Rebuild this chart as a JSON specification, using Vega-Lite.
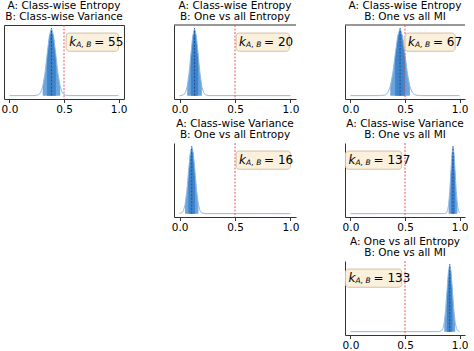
{
  "$schema": "https://vega.github.io/schema/vega-lite/v6.json",
  "padding": {"left": 0, "top": 0, "right": 0, "bottom": 0},
  "background": "white",
  "datasets": {
    "curves": [
      {"panel":"p1","x":0.0,"y":0,"band":0},{"panel":"p1","x":0.225,"y":0.0003,"band":0},{"panel":"p1","x":0.265,"y":0.011,"band":0},{"panel":"p1","x":0.285,"y":0.044,"band":0},{"panel":"p1","x":0.305,"y":0.135,"band":1},{"panel":"p1","x":0.325,"y":0.325,"band":1},{"panel":"p1","x":0.345,"y":0.607,"band":2},{"panel":"p1","x":0.365,"y":0.882,"band":2},{"panel":"p1","x":0.385,"y":1.0,"band":2},{"panel":"p1","x":0.405,"y":0.882,"band":2},{"panel":"p1","x":0.425,"y":0.607,"band":2},{"panel":"p1","x":0.445,"y":0.325,"band":1},{"panel":"p1","x":0.465,"y":0.135,"band":1},{"panel":"p1","x":0.485,"y":0.044,"band":0},{"panel":"p1","x":0.505,"y":0.011,"band":0},{"panel":"p1","x":0.545,"y":0.0003,"band":0},{"panel":"p1","x":1.0,"y":0,"band":0},
      {"panel":"p2","x":0.0,"y":0,"band":0},{"panel":"p2","x":0.003,"y":0.0003,"band":0},{"panel":"p2","x":0.036,"y":0.011,"band":0},{"panel":"p2","x":0.0525,"y":0.044,"band":0},{"panel":"p2","x":0.069,"y":0.135,"band":1},{"panel":"p2","x":0.0855,"y":0.325,"band":1},{"panel":"p2","x":0.102,"y":0.607,"band":2},{"panel":"p2","x":0.1185,"y":0.882,"band":2},{"panel":"p2","x":0.135,"y":1.0,"band":2},{"panel":"p2","x":0.1515,"y":0.882,"band":2},{"panel":"p2","x":0.168,"y":0.607,"band":2},{"panel":"p2","x":0.1845,"y":0.325,"band":1},{"panel":"p2","x":0.201,"y":0.135,"band":1},{"panel":"p2","x":0.2175,"y":0.044,"band":0},{"panel":"p2","x":0.234,"y":0.011,"band":0},{"panel":"p2","x":0.267,"y":0.0003,"band":0},{"panel":"p2","x":1.0,"y":0,"band":0},
      {"panel":"p3","x":0.0,"y":0,"band":0},{"panel":"p3","x":0.275,"y":0.0003,"band":0},{"panel":"p3","x":0.32,"y":0.011,"band":0},{"panel":"p3","x":0.3425,"y":0.044,"band":0},{"panel":"p3","x":0.365,"y":0.135,"band":1},{"panel":"p3","x":0.3875,"y":0.325,"band":1},{"panel":"p3","x":0.41,"y":0.607,"band":2},{"panel":"p3","x":0.4325,"y":0.882,"band":2},{"panel":"p3","x":0.455,"y":1.0,"band":2},{"panel":"p3","x":0.4775,"y":0.882,"band":2},{"panel":"p3","x":0.5,"y":0.607,"band":2},{"panel":"p3","x":0.5225,"y":0.325,"band":1},{"panel":"p3","x":0.545,"y":0.135,"band":1},{"panel":"p3","x":0.5675,"y":0.044,"band":0},{"panel":"p3","x":0.59,"y":0.011,"band":0},{"panel":"p3","x":0.635,"y":0.0003,"band":0},{"panel":"p3","x":1.0,"y":0,"band":0},
      {"panel":"p4","x":0.0,"y":0.0012,"band":0},{"panel":"p4","x":0.02,"y":0.011,"band":0},{"panel":"p4","x":0.035,"y":0.044,"band":0},{"panel":"p4","x":0.05,"y":0.135,"band":1},{"panel":"p4","x":0.065,"y":0.325,"band":1},{"panel":"p4","x":0.08,"y":0.607,"band":2},{"panel":"p4","x":0.095,"y":0.882,"band":2},{"panel":"p4","x":0.11,"y":1.0,"band":2},{"panel":"p4","x":0.125,"y":0.882,"band":2},{"panel":"p4","x":0.14,"y":0.607,"band":2},{"panel":"p4","x":0.155,"y":0.325,"band":1},{"panel":"p4","x":0.17,"y":0.135,"band":1},{"panel":"p4","x":0.185,"y":0.044,"band":0},{"panel":"p4","x":0.2,"y":0.011,"band":0},{"panel":"p4","x":0.23,"y":0.0003,"band":0},{"panel":"p4","x":1.0,"y":0,"band":0},
      {"panel":"p5","x":0.0,"y":0,"band":0},{"panel":"p5","x":0.86,"y":0.0003,"band":0},{"panel":"p5","x":0.88,"y":0.011,"band":0},{"panel":"p5","x":0.89,"y":0.044,"band":0},{"panel":"p5","x":0.90,"y":0.135,"band":1},{"panel":"p5","x":0.91,"y":0.325,"band":1},{"panel":"p5","x":0.92,"y":0.607,"band":2},{"panel":"p5","x":0.93,"y":0.882,"band":2},{"panel":"p5","x":0.94,"y":1.0,"band":2},{"panel":"p5","x":0.95,"y":0.882,"band":2},{"panel":"p5","x":0.96,"y":0.607,"band":2},{"panel":"p5","x":0.97,"y":0.325,"band":1},{"panel":"p5","x":0.98,"y":0.135,"band":1},{"panel":"p5","x":0.99,"y":0.044,"band":0},{"panel":"p5","x":1.0,"y":0.011,"band":0},
      {"panel":"p6","x":0.0,"y":0,"band":0},{"panel":"p6","x":0.81,"y":0.0003,"band":0},{"panel":"p6","x":0.835,"y":0.011,"band":0},{"panel":"p6","x":0.8475,"y":0.044,"band":0},{"panel":"p6","x":0.86,"y":0.135,"band":1},{"panel":"p6","x":0.8725,"y":0.325,"band":1},{"panel":"p6","x":0.885,"y":0.607,"band":2},{"panel":"p6","x":0.8975,"y":0.882,"band":2},{"panel":"p6","x":0.91,"y":1.0,"band":2},{"panel":"p6","x":0.9225,"y":0.882,"band":2},{"panel":"p6","x":0.935,"y":0.607,"band":2},{"panel":"p6","x":0.9475,"y":0.325,"band":1},{"panel":"p6","x":0.96,"y":0.135,"band":1},{"panel":"p6","x":0.9725,"y":0.044,"band":0},{"panel":"p6","x":0.985,"y":0.011,"band":0},{"panel":"p6","x":1.0,"y":0.0015,"band":0}
    ],
    "stats": [
      {"panel":"p1","mean":0.385,"k":55},
      {"panel":"p2","mean":0.135,"k":20},
      {"panel":"p3","mean":0.455,"k":67},
      {"panel":"p4","mean":0.11,"k":16},
      {"panel":"p5","mean":0.94,"k":137},
      {"panel":"p6","mean":0.91,"k":133}
    ]
  },
  "hconcat": [
    {"vconcat": [
      {"width":120,"height":74,"view":{"stroke":"#333","strokeWidth":1},
       "title":{"text":["A: Class-wise Entropy","B: Class-wise Variance"]},
       "layer":[
        {"data":{"name":"curves"},"transform":[{"filter":"datum.panel==='p1' && datum.band>=1"}],"mark":{"type":"area","color":"#6ba3dc","opacity":1},
         "encoding":{"x":{"field":"x","type":"quantitative","title":null,"scale":{"domain":[-0.05,1.05],"nice":false,"zero":false},"axis":{"values":[0,0.5,1],"format":".1f","domain":false}},"y":{"field":"y","type":"quantitative","title":null,"scale":{"domain":[-0.05,1.05],"nice":false},"axis":{"labels":false,"ticks":false,"grid":false,"domain":false}}}},
        {"data":{"name":"curves"},"transform":[{"filter":"datum.panel==='p1' && datum.band==2"}],"mark":{"type":"area","color":"#3f83c9"},
         "encoding":{"x":{"field":"x","type":"quantitative","title":null},"y":{"field":"y","type":"quantitative","title":null}}},
        {"data":{"name":"curves"},"transform":[{"filter":"datum.panel==='p1'"}],"mark":{"type":"line","color":"#8dbbe8","strokeWidth":1},
         "encoding":{"x":{"field":"x","type":"quantitative","title":null},"y":{"field":"y","type":"quantitative","title":null}}},
        {"data":{"name":"stats"},"transform":[{"filter":"datum.panel==='p1'"}],"mark":{"type":"rule","color":"#1d4f9e","strokeDash":[2,1.5],"strokeWidth":1},
         "encoding":{"x":{"field":"mean","type":"quantitative","title":null},"y":{"datum":0},"y2":{"datum":1}}},
        {"data":{"name":"stats"},"transform":[{"filter":"datum.panel==='p1'"}],"mark":{"type":"rule","color":"#e65a5a","strokeDash":[2,1.5],"strokeWidth":1},
         "encoding":{"x":{"datum":0.5}}},
        {"data":{"name":"stats"},"transform":[{"filter":"datum.panel==='p1'"}],"mark":{"type":"rect","fill":"#fbf0dc","stroke":"#d2c2a2","strokeWidth":1,"cornerRadius":3},
         "encoding":{"x":{"datum":0.52},"x2":{"datum":1.0},"y":{"datum":0.93},"y2":{"datum":0.66}}},
        {"data":{"name":"stats"},"transform":[{"filter":"datum.panel==='p1'"}],"mark":{"type":"text","text":"k","fontStyle":"italic","fontSize":12,"align":"left","baseline":"middle","dx":3},
         "encoding":{"x":{"datum":0.52},"y":{"datum":0.795}}},
        {"data":{"name":"stats"},"transform":[{"filter":"datum.panel==='p1'"}],"mark":{"type":"text","text":"A, B","fontStyle":"italic","fontSize":7.5,"align":"left","baseline":"middle","dx":10,"dy":3},
         "encoding":{"x":{"datum":0.52},"y":{"datum":0.795}}},
        {"data":{"name":"stats"},"transform":[{"filter":"datum.panel==='p1'"},{"calculate":"'= ' + datum.k","as":"lab"}],"mark":{"type":"text","fontSize":12,"align":"left","baseline":"middle","dx":28},
         "encoding":{"x":{"datum":0.52},"y":{"datum":0.795},"text":{"field":"lab"}}}
       ]}
    ]},
    {"spacing": 3, "vconcat": [
      {"width":122,"height":74,
       "title":{"text":["A: Class-wise Entropy","B: One vs all Entropy"]},
       "layer":[
        {"data":{"name":"curves"},"transform":[{"filter":"datum.panel==='p2' && datum.band>=1"}],"mark":{"type":"area","color":"#6ba3dc"},
         "encoding":{"x":{"field":"x","type":"quantitative","title":null,"scale":{"domain":[-0.05,1.05],"nice":false,"zero":false},"axis":{"values":[0,0.5,1],"format":".1f"}},"y":{"field":"y","type":"quantitative","title":null,"scale":{"domain":[-0.05,1.05],"nice":false},"axis":{"labels":false,"ticks":false,"grid":false}}}},
        {"data":{"name":"curves"},"transform":[{"filter":"datum.panel==='p2' && datum.band==2"}],"mark":{"type":"area","color":"#3f83c9"},
         "encoding":{"x":{"field":"x","type":"quantitative","title":null},"y":{"field":"y","type":"quantitative","title":null}}},
        {"data":{"name":"curves"},"transform":[{"filter":"datum.panel==='p2'"}],"mark":{"type":"line","color":"#8dbbe8","strokeWidth":1},
         "encoding":{"x":{"field":"x","type":"quantitative","title":null},"y":{"field":"y","type":"quantitative","title":null}}},
        {"data":{"name":"stats"},"transform":[{"filter":"datum.panel==='p2'"}],"mark":{"type":"rule","color":"#333","strokeWidth":1},
         "encoding":{"x":{"datum":-0.05},"x2":{"datum":1.05},"y":{"datum":1.05}}},
        {"data":{"name":"stats"},"transform":[{"filter":"datum.panel==='p2'"}],"mark":{"type":"rule","color":"#1d4f9e","strokeDash":[2,1.5],"strokeWidth":1},
         "encoding":{"x":{"field":"mean","type":"quantitative","title":null},"y":{"datum":0},"y2":{"datum":1}}},
        {"data":{"name":"stats"},"transform":[{"filter":"datum.panel==='p2'"}],"mark":{"type":"rule","color":"#e65a5a","strokeDash":[2,1.5],"strokeWidth":1},
         "encoding":{"x":{"datum":0.5}}},
        {"data":{"name":"stats"},"transform":[{"filter":"datum.panel==='p2'"}],"mark":{"type":"rect","fill":"#fbf0dc","stroke":"#d2c2a2","strokeWidth":1,"cornerRadius":3},
         "encoding":{"x":{"datum":0.51},"x2":{"datum":0.99},"y":{"datum":0.93},"y2":{"datum":0.66}}},
        {"data":{"name":"stats"},"transform":[{"filter":"datum.panel==='p2'"}],"mark":{"type":"text","text":"k","fontStyle":"italic","fontSize":12,"align":"left","baseline":"middle","dx":3},
         "encoding":{"x":{"datum":0.51},"y":{"datum":0.795}}},
        {"data":{"name":"stats"},"transform":[{"filter":"datum.panel==='p2'"}],"mark":{"type":"text","text":"A, B","fontStyle":"italic","fontSize":7.5,"align":"left","baseline":"middle","dx":10,"dy":3},
         "encoding":{"x":{"datum":0.51},"y":{"datum":0.795}}},
        {"data":{"name":"stats"},"transform":[{"filter":"datum.panel==='p2'"},{"calculate":"'= ' + datum.k","as":"lab"}],"mark":{"type":"text","fontSize":12,"align":"left","baseline":"middle","dx":28},
         "encoding":{"x":{"datum":0.51},"y":{"datum":0.795},"text":{"field":"lab"}}}
       ]},
      {"width":122,"height":74,
       "title":{"text":["A: Class-wise Variance","B: One vs all Entropy"]},
       "layer":[
        {"data":{"name":"curves"},"transform":[{"filter":"datum.panel==='p4' && datum.band>=1"}],"mark":{"type":"area","color":"#6ba3dc"},
         "encoding":{"x":{"field":"x","type":"quantitative","title":null,"scale":{"domain":[-0.05,1.05],"nice":false,"zero":false},"axis":{"values":[0,0.5,1],"format":".1f"}},"y":{"field":"y","type":"quantitative","title":null,"scale":{"domain":[-0.05,1.05],"nice":false},"axis":{"labels":false,"ticks":false,"grid":false}}}},
        {"data":{"name":"curves"},"transform":[{"filter":"datum.panel==='p4' && datum.band==2"}],"mark":{"type":"area","color":"#3f83c9"},
         "encoding":{"x":{"field":"x","type":"quantitative","title":null},"y":{"field":"y","type":"quantitative","title":null}}},
        {"data":{"name":"curves"},"transform":[{"filter":"datum.panel==='p4'"}],"mark":{"type":"line","color":"#8dbbe8","strokeWidth":1},
         "encoding":{"x":{"field":"x","type":"quantitative","title":null},"y":{"field":"y","type":"quantitative","title":null}}},
        {"data":{"name":"stats"},"transform":[{"filter":"datum.panel==='p4'"}],"mark":{"type":"rule","color":"#1d4f9e","strokeDash":[2,1.5],"strokeWidth":1},
         "encoding":{"x":{"field":"mean","type":"quantitative","title":null},"y":{"datum":0},"y2":{"datum":1}}},
        {"data":{"name":"stats"},"transform":[{"filter":"datum.panel==='p4'"}],"mark":{"type":"rule","color":"#e65a5a","strokeDash":[2,1.5],"strokeWidth":1},
         "encoding":{"x":{"datum":0.5}}},
        {"data":{"name":"stats"},"transform":[{"filter":"datum.panel==='p4'"}],"mark":{"type":"rect","fill":"#fbf0dc","stroke":"#d2c2a2","strokeWidth":1,"cornerRadius":3},
         "encoding":{"x":{"datum":0.51},"x2":{"datum":1.0},"y":{"datum":0.93},"y2":{"datum":0.66}}},
        {"data":{"name":"stats"},"transform":[{"filter":"datum.panel==='p4'"}],"mark":{"type":"text","text":"k","fontStyle":"italic","fontSize":12,"align":"left","baseline":"middle","dx":3},
         "encoding":{"x":{"datum":0.51},"y":{"datum":0.795}}},
        {"data":{"name":"stats"},"transform":[{"filter":"datum.panel==='p4'"}],"mark":{"type":"text","text":"A, B","fontStyle":"italic","fontSize":7.5,"align":"left","baseline":"middle","dx":10,"dy":3},
         "encoding":{"x":{"datum":0.51},"y":{"datum":0.795}}},
        {"data":{"name":"stats"},"transform":[{"filter":"datum.panel==='p4'"},{"calculate":"'= ' + datum.k","as":"lab"}],"mark":{"type":"text","fontSize":12,"align":"left","baseline":"middle","dx":28},
         "encoding":{"x":{"datum":0.51},"y":{"datum":0.795},"text":{"field":"lab"}}}
       ]}
    ]},
    {"spacing": 3, "vconcat": [
      {"width":120,"height":74,
       "title":{"text":["A: Class-wise Entropy","B: One vs all MI"]},
       "layer":[
        {"data":{"name":"curves"},"transform":[{"filter":"datum.panel==='p3' && datum.band>=1"}],"mark":{"type":"area","color":"#6ba3dc"},
         "encoding":{"x":{"field":"x","type":"quantitative","title":null,"scale":{"domain":[-0.05,1.05],"nice":false,"zero":false},"axis":{"values":[0,0.5,1],"format":".1f"}},"y":{"field":"y","type":"quantitative","title":null,"scale":{"domain":[-0.05,1.05],"nice":false},"axis":{"labels":false,"ticks":false,"grid":false}}}},
        {"data":{"name":"curves"},"transform":[{"filter":"datum.panel==='p3' && datum.band==2"}],"mark":{"type":"area","color":"#3f83c9"},
         "encoding":{"x":{"field":"x","type":"quantitative","title":null},"y":{"field":"y","type":"quantitative","title":null}}},
        {"data":{"name":"curves"},"transform":[{"filter":"datum.panel==='p3'"}],"mark":{"type":"line","color":"#8dbbe8","strokeWidth":1},
         "encoding":{"x":{"field":"x","type":"quantitative","title":null},"y":{"field":"y","type":"quantitative","title":null}}},
        {"data":{"name":"stats"},"transform":[{"filter":"datum.panel==='p3'"}],"mark":{"type":"rule","color":"#333","strokeWidth":1},
         "encoding":{"x":{"datum":-0.05},"x2":{"datum":1.05},"y":{"datum":1.05}}},
        {"data":{"name":"stats"},"transform":[{"filter":"datum.panel==='p3'"}],"mark":{"type":"rule","color":"#1d4f9e","strokeDash":[2,1.5],"strokeWidth":1},
         "encoding":{"x":{"field":"mean","type":"quantitative","title":null},"y":{"datum":0},"y2":{"datum":1}}},
        {"data":{"name":"stats"},"transform":[{"filter":"datum.panel==='p3'"}],"mark":{"type":"rule","color":"#e65a5a","strokeDash":[2,1.5],"strokeWidth":1},
         "encoding":{"x":{"datum":0.5}}},
        {"data":{"name":"stats"},"transform":[{"filter":"datum.panel==='p3'"}],"mark":{"type":"rect","fill":"#fbf0dc","stroke":"#d2c2a2","strokeWidth":1,"cornerRadius":3},
         "encoding":{"x":{"datum":0.50},"x2":{"datum":0.96},"y":{"datum":0.93},"y2":{"datum":0.66}}},
        {"data":{"name":"stats"},"transform":[{"filter":"datum.panel==='p3'"}],"mark":{"type":"text","text":"k","fontStyle":"italic","fontSize":12,"align":"left","baseline":"middle","dx":3},
         "encoding":{"x":{"datum":0.50},"y":{"datum":0.795}}},
        {"data":{"name":"stats"},"transform":[{"filter":"datum.panel==='p3'"}],"mark":{"type":"text","text":"A, B","fontStyle":"italic","fontSize":7.5,"align":"left","baseline":"middle","dx":10,"dy":3},
         "encoding":{"x":{"datum":0.50},"y":{"datum":0.795}}},
        {"data":{"name":"stats"},"transform":[{"filter":"datum.panel==='p3'"},{"calculate":"'= ' + datum.k","as":"lab"}],"mark":{"type":"text","fontSize":12,"align":"left","baseline":"middle","dx":28},
         "encoding":{"x":{"datum":0.50},"y":{"datum":0.795},"text":{"field":"lab"}}}
       ]},
      {"width":120,"height":74,
       "title":{"text":["A: Class-wise Variance","B: One vs all MI"]},
       "layer":[
        {"data":{"name":"curves"},"transform":[{"filter":"datum.panel==='p5' && datum.band>=1"}],"mark":{"type":"area","color":"#6ba3dc"},
         "encoding":{"x":{"field":"x","type":"quantitative","title":null,"scale":{"domain":[-0.05,1.05],"nice":false,"zero":false},"axis":{"values":[0,0.5,1],"format":".1f"}},"y":{"field":"y","type":"quantitative","title":null,"scale":{"domain":[-0.05,1.05],"nice":false},"axis":{"labels":false,"ticks":false,"grid":false}}}},
        {"data":{"name":"curves"},"transform":[{"filter":"datum.panel==='p5' && datum.band==2"}],"mark":{"type":"area","color":"#3f83c9"},
         "encoding":{"x":{"field":"x","type":"quantitative","title":null},"y":{"field":"y","type":"quantitative","title":null}}},
        {"data":{"name":"curves"},"transform":[{"filter":"datum.panel==='p5'"}],"mark":{"type":"line","color":"#8dbbe8","strokeWidth":1},
         "encoding":{"x":{"field":"x","type":"quantitative","title":null},"y":{"field":"y","type":"quantitative","title":null}}},
        {"data":{"name":"stats"},"transform":[{"filter":"datum.panel==='p5'"}],"mark":{"type":"rule","color":"#1d4f9e","strokeDash":[2,1.5],"strokeWidth":1},
         "encoding":{"x":{"field":"mean","type":"quantitative","title":null},"y":{"datum":0},"y2":{"datum":1}}},
        {"data":{"name":"stats"},"transform":[{"filter":"datum.panel==='p5'"}],"mark":{"type":"rule","color":"#e65a5a","strokeDash":[2,1.5],"strokeWidth":1},
         "encoding":{"x":{"datum":0.5}}},
        {"data":{"name":"stats"},"transform":[{"filter":"datum.panel==='p5'"}],"mark":{"type":"rect","fill":"#fbf0dc","stroke":"#d2c2a2","strokeWidth":1,"cornerRadius":3},
         "encoding":{"x":{"datum":-0.045},"x2":{"datum":0.47},"y":{"datum":0.93},"y2":{"datum":0.66}}},
        {"data":{"name":"stats"},"transform":[{"filter":"datum.panel==='p5'"}],"mark":{"type":"text","text":"k","fontStyle":"italic","fontSize":12,"align":"left","baseline":"middle","dx":3},
         "encoding":{"x":{"datum":-0.045},"y":{"datum":0.795}}},
        {"data":{"name":"stats"},"transform":[{"filter":"datum.panel==='p5'"}],"mark":{"type":"text","text":"A, B","fontStyle":"italic","fontSize":7.5,"align":"left","baseline":"middle","dx":10,"dy":3},
         "encoding":{"x":{"datum":-0.045},"y":{"datum":0.795}}},
        {"data":{"name":"stats"},"transform":[{"filter":"datum.panel==='p5'"},{"calculate":"'= ' + datum.k","as":"lab"}],"mark":{"type":"text","fontSize":12,"align":"left","baseline":"middle","dx":28},
         "encoding":{"x":{"datum":-0.045},"y":{"datum":0.795},"text":{"field":"lab"}}}
       ]},
      {"width":120,"height":74,
       "title":{"text":["A: One vs all Entropy","B: One vs all MI"]},
       "layer":[
        {"data":{"name":"curves"},"transform":[{"filter":"datum.panel==='p6' && datum.band>=1"}],"mark":{"type":"area","color":"#6ba3dc"},
         "encoding":{"x":{"field":"x","type":"quantitative","title":null,"scale":{"domain":[-0.05,1.05],"nice":false,"zero":false},"axis":{"values":[0,0.5,1],"format":".1f"}},"y":{"field":"y","type":"quantitative","title":null,"scale":{"domain":[-0.05,1.05],"nice":false},"axis":{"labels":false,"ticks":false,"grid":false}}}},
        {"data":{"name":"curves"},"transform":[{"filter":"datum.panel==='p6' && datum.band==2"}],"mark":{"type":"area","color":"#3f83c9"},
         "encoding":{"x":{"field":"x","type":"quantitative","title":null},"y":{"field":"y","type":"quantitative","title":null}}},
        {"data":{"name":"curves"},"transform":[{"filter":"datum.panel==='p6'"}],"mark":{"type":"line","color":"#8dbbe8","strokeWidth":1},
         "encoding":{"x":{"field":"x","type":"quantitative","title":null},"y":{"field":"y","type":"quantitative","title":null}}},
        {"data":{"name":"stats"},"transform":[{"filter":"datum.panel==='p6'"}],"mark":{"type":"rule","color":"#1d4f9e","strokeDash":[2,1.5],"strokeWidth":1},
         "encoding":{"x":{"field":"mean","type":"quantitative","title":null},"y":{"datum":0},"y2":{"datum":1}}},
        {"data":{"name":"stats"},"transform":[{"filter":"datum.panel==='p6'"}],"mark":{"type":"rule","color":"#e65a5a","strokeDash":[2,1.5],"strokeWidth":1},
         "encoding":{"x":{"datum":0.5}}},
        {"data":{"name":"stats"},"transform":[{"filter":"datum.panel==='p6'"}],"mark":{"type":"rect","fill":"#fbf0dc","stroke":"#d2c2a2","strokeWidth":1,"cornerRadius":3},
         "encoding":{"x":{"datum":-0.045},"x2":{"datum":0.47},"y":{"datum":0.93},"y2":{"datum":0.66}}},
        {"data":{"name":"stats"},"transform":[{"filter":"datum.panel==='p6'"}],"mark":{"type":"text","text":"k","fontStyle":"italic","fontSize":12,"align":"left","baseline":"middle","dx":3},
         "encoding":{"x":{"datum":-0.045},"y":{"datum":0.795}}},
        {"data":{"name":"stats"},"transform":[{"filter":"datum.panel==='p6'"}],"mark":{"type":"text","text":"A, B","fontStyle":"italic","fontSize":7.5,"align":"left","baseline":"middle","dx":10,"dy":3},
         "encoding":{"x":{"datum":-0.045},"y":{"datum":0.795}}},
        {"data":{"name":"stats"},"transform":[{"filter":"datum.panel==='p6'"},{"calculate":"'= ' + datum.k","as":"lab"}],"mark":{"type":"text","fontSize":12,"align":"left","baseline":"middle","dx":28},
         "encoding":{"x":{"datum":-0.045},"y":{"datum":0.795},"text":{"field":"lab"}}}
       ]}
    ]}
  ],
  "spacing": 43,
  "config": {
    "font": "DejaVu Sans",
    "view": {"stroke": null},
    "axis": {"domainColor": "#333", "tickColor": "#333", "labelColor": "#000", "labelFontSize": 10.5, "labelFont": "DejaVu Sans", "grid": false, "tickSize": 3.5, "labelPadding": 2, "domainWidth": 1},
    "title": {"fontSize": 10.5, "fontWeight": "normal", "font": "DejaVu Sans", "color": "#000", "offset": 2, "lineHeight": 11.5}
  }
}
